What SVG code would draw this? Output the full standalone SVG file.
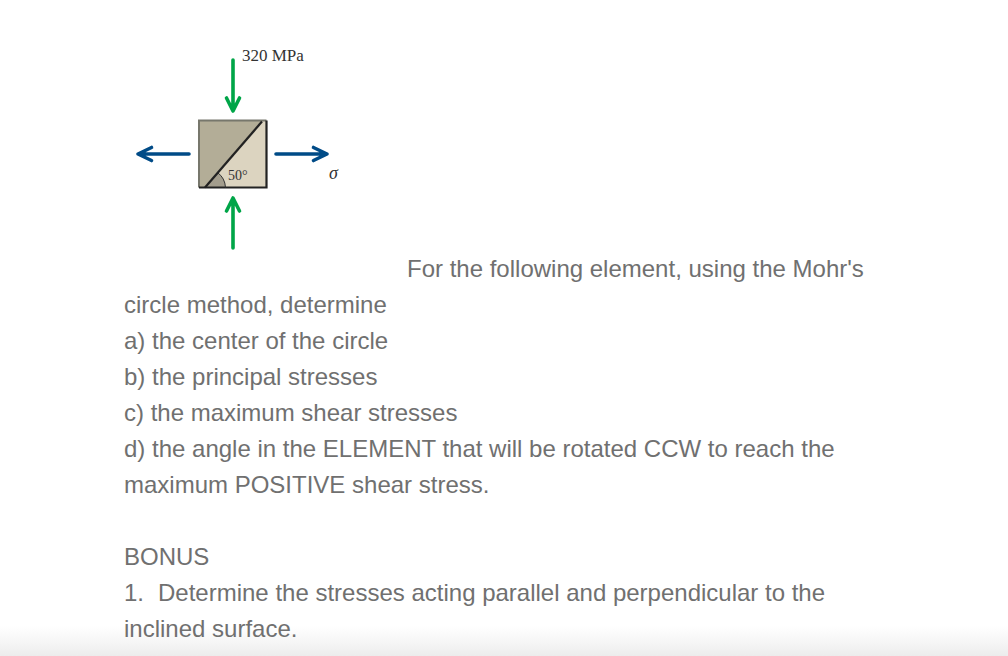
<svg xmlns="http://www.w3.org/2000/svg" width="1008" height="656" viewBox="0 0 1008 656">
<defs><linearGradient id="fade" x1="0" y1="0" x2="0" y2="1"><stop offset="0" stop-color="#f0f0f0" stop-opacity="0"/><stop offset="1" stop-color="#ececec"/></linearGradient></defs>
<style>.t{font-family:"Liberation Sans",Arial,sans-serif;font-size:24px;fill:#707070}.s{font-family:"Liberation Serif","Times New Roman",serif;fill:#333}.g{fill:none;stroke:#00a548;stroke-width:3.6;stroke-linecap:round;stroke-linejoin:round}.b{fill:none;stroke:#004b87;stroke-width:3.6;stroke-linecap:round;stroke-linejoin:round}</style>
<rect width="1008" height="656" fill="#fff"/>
<rect y="625" width="1008" height="31" fill="url(#fade)"/>
<g id="element">
<rect x="199" y="121" width="67.500" height="66.500" fill="#dcd4c0"/>
<path d="M199 121H262L205 187H199Z" fill="#b3ad97"/>
<path d="M205 187.500L217.500 172.500A20 20 0 0 1 225.500 187.500Z" fill="#a39d8d"/>
<path d="M199 187.500V120.500H266.500" fill="none" stroke="#77776c" stroke-width="2"/>
<path d="M266.500 120.500V187.500H199" fill="none" stroke="#222" stroke-width="2.200"/>
<path d="M217.500 172.500A20 20 0 0 1 225.500 187.500" fill="none" stroke="#333" stroke-width="1"/>
<path d="M205 187.500L262 121.500" stroke="#222" stroke-width="2.200"/>
<text class="s" x="228" y="180" font-size="14">50°</text>
</g>
<g id="connectors">
<path class="g" d="M233 60V111M226.500 98L233 111L239.500 98"/>
<path class="g" d="M233 248V198M226.500 211L233 198L239.500 211"/>
<path class="b" d="M189 154H138M151.500 147.500L138 154L151.500 160.500"/>
<path class="b" d="M276 154H327M313.500 147.500L327 154L313.500 160.500"/>
</g>
<text class="s" x="242" y="61" font-size="17">320 MPa</text>
<text class="s" x="329" y="179" font-size="18" font-style="italic">σ</text>
<text class="t" x="407" y="277">For the following element, using the Mohr's</text>
<text class="t" x="124" y="313">circle method, determine</text>
<text class="t" x="124" y="349">a) the center of the circle</text>
<text class="t" x="124" y="385">b) the principal stresses</text>
<text class="t" x="124" y="421">c) the maximum shear stresses</text>
<text class="t" x="124" y="457">d) the angle in the ELEMENT that will be rotated CCW to reach the</text>
<text class="t" x="124" y="493">maximum POSITIVE shear stress.</text>
<text class="t" x="124" y="565">BONUS</text>
<text class="t" y="601"><tspan x="124">1.</tspan><tspan x="158">Determine the stresses acting parallel and perpendicular to the</tspan></text>
<text class="t" x="124" y="637">inclined surface.</text>
</svg>
